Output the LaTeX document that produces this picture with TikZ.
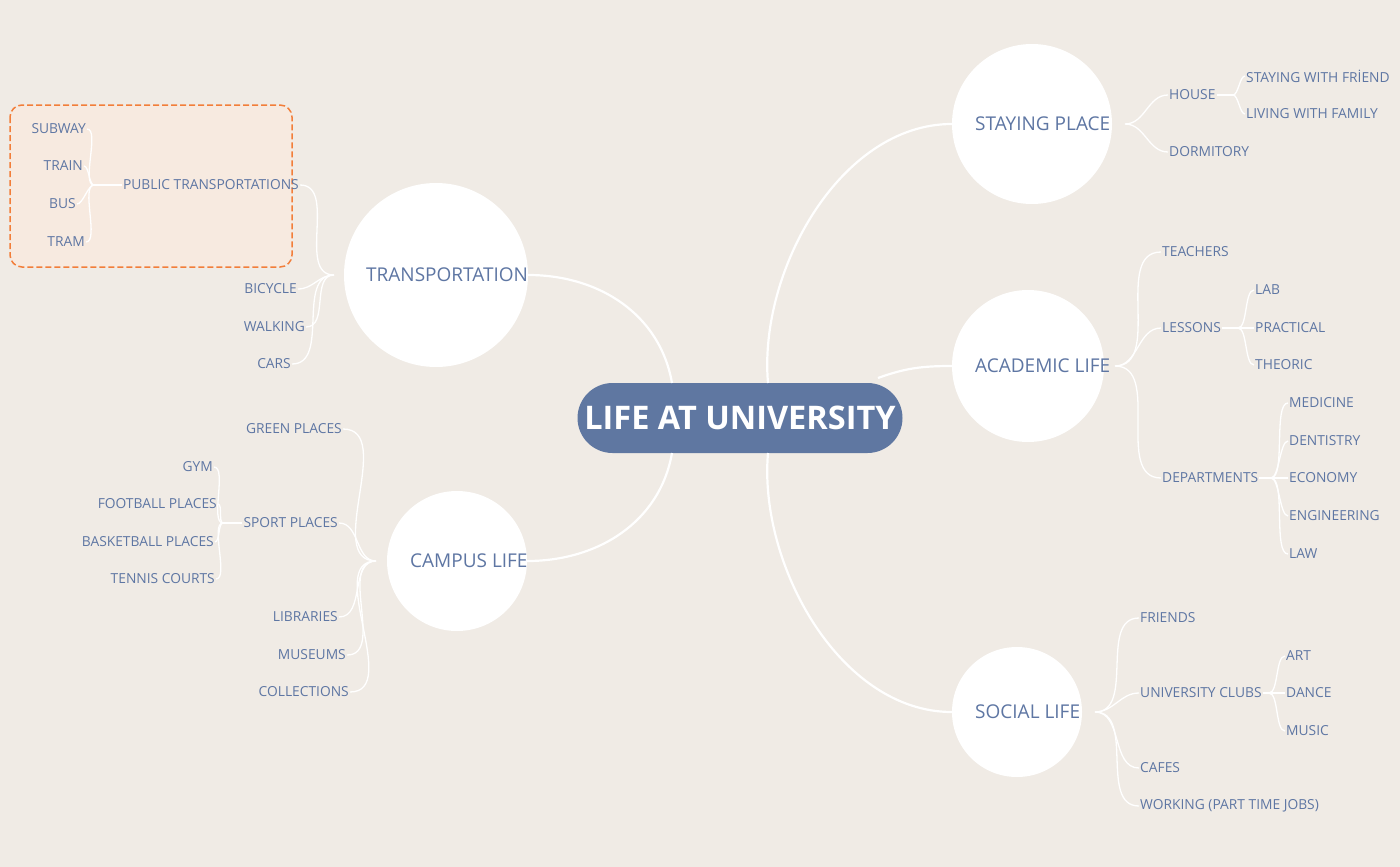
\documentclass[tikz,border=0pt]{standalone}
\usepackage{fontspec}
\setmainfont{Open Sans}
\definecolor{bg}{HTML}{F0EBE5}
\definecolor{tx}{HTML}{5E76A3}
\definecolor{ctr}{HTML}{5F77A1}
\definecolor{org}{HTML}{F27E3A}
\definecolor{orgf}{HTML}{F7EAE0}
\begin{document}
\begin{tikzpicture}[x=1pt,y=-1pt,
  lbl/.style={text=tx,font=\fontsize{13.8}{14}\selectfont,inner sep=1pt},
  big/.style={text=tx,font=\fontsize{19}{19}\selectfont,inner sep=0pt,anchor=west},
  circ/.style={circle,fill=white,draw=none,inner sep=0pt},
  ln/.style={white,line width=1.3pt},
  mln/.style={white,line width=2.2pt}]
\fill[bg] (0,0) rectangle (1400,867);
\useasboundingbox (0,0) rectangle (1400,867);
\newcommand\R[3]{\node[lbl,anchor=west] (#1) at (#2) {#3};}
\newcommand\Lf[3]{\node[lbl,anchor=east] (#1) at (#2) {#3};}
% orange box
\draw[org,fill=orgf,line width=1.5pt,rounded corners=12pt,dash pattern=on 6pt off 3pt] (10,105) rectangle (292,267);
% center
\node[fill=ctr,rounded corners=35pt,minimum width=325pt,minimum height=70pt,text=white,font=\bfseries\fontsize{32.5}{33}\selectfont,inner sep=0pt] (c) at (740,418) {LIFE AT UNIVERSITY};
\coordinate (cTR) at (768,383); \coordinate (cBR) at (768,453);
\coordinate (cTL) at (672,383); \coordinate (cBL) at (672,453);
\coordinate (cAR) at (878,378);
% circles
\node[circ,minimum size=160pt] (sp) at (1032,124) {};
\node[circ,minimum size=184pt] (tr) at (436,275) {};
\node[circ,minimum size=152pt] (al) at (1028,366) {};
\node[circ,minimum size=140pt] (cl) at (457,561) {};
\node[circ,minimum size=130pt] (sl) at (1017,712) {};
\draw[mln] (cTR) to[out=95,in=180,looseness=0.9] (sp.west);
\draw[mln] (cBR) to[out=-95,in=180,looseness=0.9] (sl.west);
\draw[mln] (cAR) to[out=20,in=180] (al.west);
\draw[mln] (cTL) to[out=100,in=0] (tr.east);
\draw[mln] (cBL) to[out=-100,in=0] (cl.east);
\node[big] (spt) at (975,124) {STAYING PLACE};
\node[big] (trt) at (366,275) {TRANSPORTATION};
\node[big] (alt) at (975,366) {ACADEMIC LIFE};
\node[big] (clt) at (410,561) {CAMPUS LIFE};
\node[big] (slt) at (975,712) {SOCIAL LIFE};
% staying place
\coordinate (j1) at (1125,124);
\R{house}{1168,95}{HOUSE} \R{dorm}{1168,152}{DORMITORY}
\coordinate (j1a) at (1233,95);
\R{swf}{1245,76}{STAYING WITH FRİEND} \R{lwf}{1245,114}{LIVING WITH FAMILY}
\foreach \t in {house,dorm} \draw[ln] (j1) to[out=0,in=180] (\t.west);
\draw[ln] (house.east) -- (j1a);
\foreach \t in {swf,lwf} \draw[ln] (j1a) to[out=0,in=180,looseness=0.6] (\t.west);
% academic
\coordinate (j2) at (1115,366);
\R{teach}{1161,252}{TEACHERS} \R{less}{1161,328}{LESSONS} \R{dep}{1161,478}{DEPARTMENTS}
\foreach \t in {teach,less,dep} \draw[ln] (j2) to[out=0,in=180] (\t.west);
\coordinate (j2a) at (1238,328);
\R{lab}{1254,290}{LAB} \R{prac}{1254,328}{PRACTICAL} \R{theo}{1254,365}{THEORIC}
\draw[ln] (less.east) -- (j2a);
\foreach \t in {lab,prac,theo} \draw[ln] (j2a) to[out=0,in=180,looseness=0.6] (\t.west);
\coordinate (j2b) at (1271,478);
\R{med}{1288,403}{MEDICINE} \R{dent}{1288,441}{DENTISTRY} \R{eco}{1288,478}{ECONOMY} \R{eng}{1288,516}{ENGINEERING} \R{law}{1288,554}{LAW}
\draw[ln] (dep.east) -- (j2b);
\foreach \t in {med,dent,eco,eng,law} \draw[ln] (j2b) to[out=0,in=180,looseness=0.5] (\t.west);
% social
\coordinate (j3) at (1095,712);
\R{fr}{1139,618}{FRIENDS} \R{uc}{1139,693}{UNIVERSITY CLUBS} \R{caf}{1139,768}{CAFES} \R{work}{1139,806}{WORKING (PART TIME JOBS)}
\foreach \t in {fr,uc,caf,work} \draw[ln] (j3) to[out=0,in=180] (\t.west);
\coordinate (j3a) at (1269,693);
\R{art}{1285,656}{ART} \R{dance}{1285,693}{DANCE} \R{music}{1285,731}{MUSIC}
\draw[ln] (uc.east) -- (j3a);
\foreach \t in {art,dance,music} \draw[ln] (j3a) to[out=0,in=180,looseness=0.6] (\t.west);
% transportation
\coordinate (j4) at (334,275);
\Lf{pt}{300,185}{PUBLIC TRANSPORTATIONS} \Lf{bic}{298,289}{BICYCLE} \Lf{walk}{306,327}{WALKING} \Lf{cars}{292,364}{CARS}
\foreach \t in {pt,bic,walk,cars} \draw[ln] (j4) to[out=180,in=0] (\t.east);
\coordinate (j4a) at (94,185);
\Lf{sub}{87,129}{SUBWAY} \Lf{train}{84,166}{TRAIN} \Lf{bus}{77,204}{BUS} \Lf{tram}{86,242}{TRAM}
\draw[ln] (pt.west) -- (j4a);
\foreach \t in {sub,train,bus,tram} \draw[ln] (j4a) to[out=180,in=0,looseness=0.6] (\t.east);
% campus
\coordinate (j5) at (376,561);
\Lf{green}{343,429}{GREEN PLACES} \Lf{sport}{339,523}{SPORT PLACES} \Lf{lib}{339,617}{LIBRARIES} \Lf{mus}{347,655}{MUSEUMS} \Lf{col}{350,692}{COLLECTIONS}
\foreach \t in {green,sport,lib,mus,col} \draw[ln] (j5) to[out=180,in=0] (\t.east);
\coordinate (j5a) at (223,523);
\Lf{gym}{214,467}{GYM} \Lf{foot}{218,504}{FOOTBALL PLACES} \Lf{bask}{215,542}{BASKETBALL PLACES} \Lf{ten}{216,579}{TENNIS COURTS}
\draw[ln] (sport.west) -- (j5a);
\foreach \t in {gym,foot,bask,ten} \draw[ln] (j5a) to[out=180,in=0,looseness=0.6] (\t.east);
\end{tikzpicture}
\end{document}
